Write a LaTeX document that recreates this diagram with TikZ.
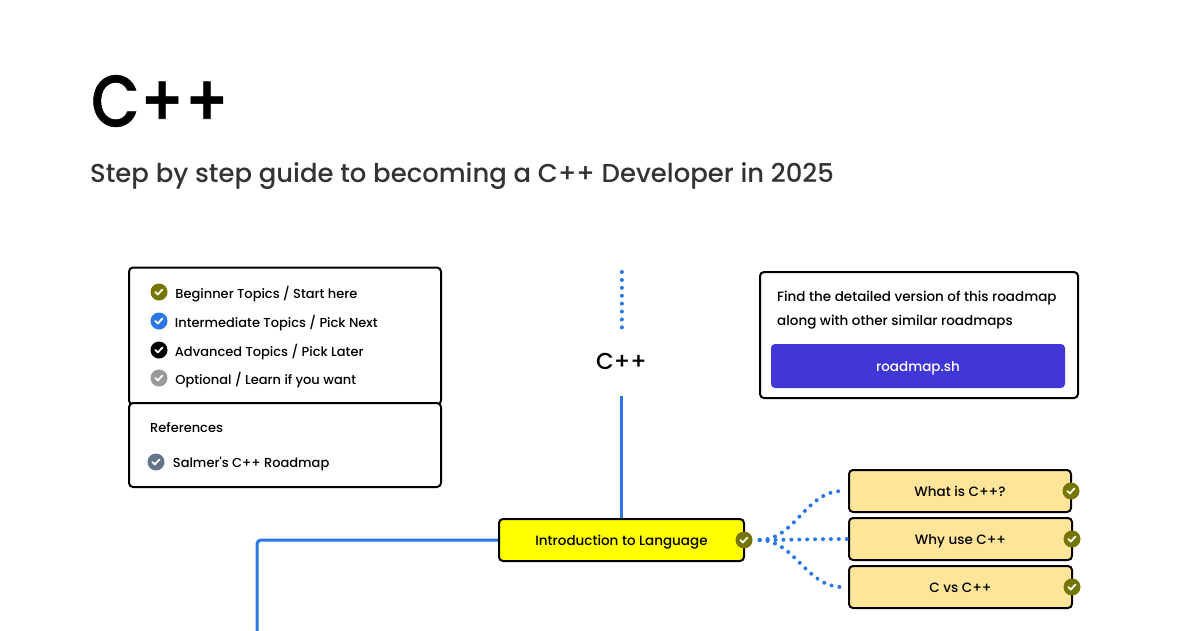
\documentclass[tikz,border=0pt]{standalone}
\usepackage{fontspec}
\setmainfont{Poppins Medium}[Ligatures=TeXOff]
\newfontfamily\titlefont{Poppins Medium}[FakeStretch=0.86, FakeBold=0.7]
\usetikzlibrary{positioning}

\definecolor{linkblue}{HTML}{2B78E4}
\definecolor{olivedone}{HTML}{757500}
\definecolor{greydone}{HTML}{999999}
\definecolor{slatedone}{HTML}{64748B}
\definecolor{subtopic}{HTML}{FFE599}
\definecolor{maintopic}{HTML}{FFFF00}
\definecolor{buttonblue}{HTML}{4136D6}
\definecolor{subtitlegrey}{HTML}{333333}

\tikzset{
  panel/.style={draw=black, line width=2pt, rounded corners=4pt, fill=white},
  topic/.style={panel, fill=#1, minimum height=42pt, text height=13pt, text depth=3pt, font=\fontsize{13.5}{16}\selectfont},
  badge/.style={circle, fill=#1, minimum size=17pt, inner sep=0pt,
    path picture={\draw[white, line width=1.9pt, line cap=round, line join=round]
      ([xshift=-3.6pt,yshift=0pt]path picture bounding box.center) -- ++(2.4pt,-2.4pt) -- ++(4.6pt,4.8pt);}},
  legendtext/.style={inner sep=0pt, text height=14pt, text depth=2pt, font=\fontsize{13}{16}\selectfont},
  solidlink/.style={draw=linkblue, line width=3pt},
  dottedlink/.style={draw=linkblue, line width=4pt, line cap=round, dash pattern=on 0.01pt off 7.9pt}
}

\begin{document}
\begin{tikzpicture}[x=1pt, y=-1pt]
  \useasboundingbox[fill=white] (0,0) rectangle (1200,630);

  \node[inner sep=0pt, anchor=west, font=\titlefont\fontsize{73}{80}\selectfont] (title) at (91,101) {C++};
  \node[inner sep=0pt, anchor=west, text=subtitlegrey, font=\fontsize{25.9}{30}\selectfont] (subtitle) at (90,176)
    {Step by step guide to becoming a C++ Developer in 2025};

  \node[panel, minimum width=312pt, minimum height=137pt] (legend) at (285,336) {};
  \node[panel, minimum width=312pt, minimum height=84pt] (references) at (285,445) {};

  \node[badge=olivedone]  (b1) at (159,292) {};
  \node[badge=linkblue]   (b2) at (159,321) {};
  \node[badge=black]      (b3) at (159,350) {};
  \node[badge=greydone]   (b4) at (159,378) {};
  \node[badge=slatedone]  (b5) at (156,462) {};

  \node[legendtext, right=7.5pt of b1] (t1) {Beginner Topics / Start here};
  \node[legendtext, right=7pt of b2] (t2) {Intermediate Topics / Pick Next};
  \node[legendtext, right=7pt of b3] (t3) {Advanced Topics / Pick Later};
  \node[legendtext, right=7.5pt of b4] (t4) {Optional / Learn if you want};
  \node[legendtext, text height=13pt, right=8pt of b5] (t5) {Salmer's C++ Roadmap};
  \node[legendtext, anchor=west] (reftitle) at (150,426) {References};

  \node[panel, minimum width=318pt, minimum height=126pt] (promo) at (919,335) {};
  \node[inner sep=0pt, anchor=west, align=left, font=\fontsize{13.5}{24}\selectfont] (promotext) at (777,310)
    {Find the detailed version of this roadmap\\along with other similar roadmaps};
  \node[fill=buttonblue, text=white, rounded corners=4pt, minimum width=294pt, minimum height=44pt,
    text height=13pt, text depth=3pt, font=\fontsize{13.5}{16}\selectfont] (button) at (918,366) {roadmap.sh};

  \coordinate (topend) at (621.5,272);
  \coordinate (leftend) at (257,631);
  \node[inner sep=0pt, minimum width=60pt, minimum height=66pt, font=\fontsize{23}{26}\selectfont] (cpp) at (621.5,363)
    {\raisebox{3pt}{C++}};

  \node[topic=maintopic, minimum width=245pt] (intro) at (621.5,540) {Introduction to Language};
  \node[topic=subtopic, minimum width=222pt] (what) at (960,491) {What is C++?};
  \node[topic=subtopic, minimum width=223pt] (why)  at (960.5,539) {Why use C++};
  \node[topic=subtopic, minimum width=223pt] (cvs)  at (960.5,587) {C vs C++};

  \node[badge=olivedone] (bintro) at (744,540) {};
  \node[badge=olivedone] (bwhat)  at (1071,491) {};
  \node[badge=olivedone] (bwhy)   at (1072,539) {};
  \node[badge=olivedone] (bcvs)   at (1072,587) {};

  \draw[dottedlink] (topend) -- (cpp);
  \draw[solidlink] (cpp) -- (intro);
  \draw[solidlink, rounded corners=4pt] (intro.west) -| (leftend);

  \path[dottedlink, shorten <=7pt]
        (bintro) edge [out=0, in=180, shorten >=6pt] (what.west)
                 edge [out=0, in=180]                (why.west)
                 edge [out=0, in=180, shorten >=6pt] (cvs.west);
\end{tikzpicture}
\end{document}
